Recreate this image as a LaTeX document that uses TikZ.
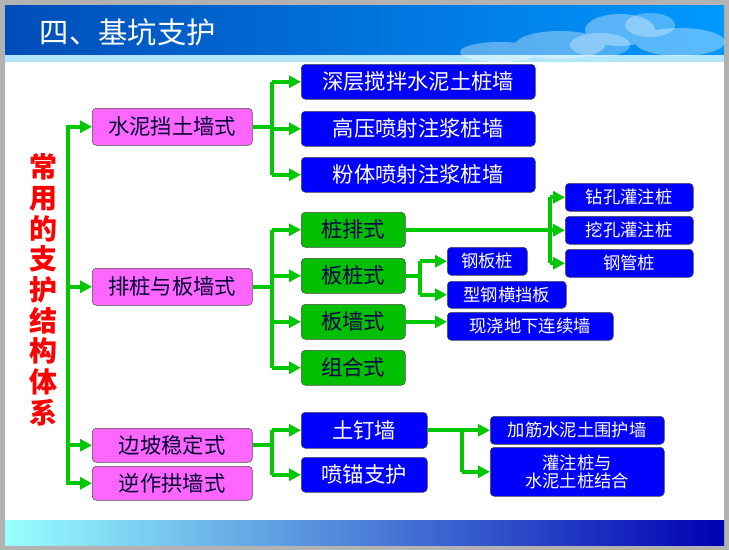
\documentclass[tikz,border=0pt]{standalone}
\usepackage{fontspec}
\setmainfont{Noto Sans CJK SC}
\usetikzlibrary{arrows.meta,shadings}
\definecolor{gr}{RGB}{0,200,0}
\definecolor{pk}{RGB}{255,102,255}
\definecolor{bl}{RGB}{0,0,255}
\definecolor{gb}{RGB}{0,190,0}
\begin{document}
\begin{tikzpicture}[x=0.75pt,y=-0.75pt,
 box/.style={draw=black!70,rounded corners=3pt,inner sep=0pt,anchor=north west},
 pbox/.style={box,fill=pk,text=black!80!blue,font=\fontsize{16}{16}\selectfont},
 bbox/.style={box,fill=bl,text=white,font=\fontsize{16}{16}\selectfont},
 sbox/.style={box,fill=bl,text=white,font=\fontsize{13}{13}\selectfont},
 gbox/.style={box,fill=gb,text=black!70!blue,font=\fontsize{16}{16}\selectfont},
 ln/.style={draw=gr,line width=3pt},
 ar/.style={ln,-{Triangle[length=9pt,width=9pt]}}]
\useasboundingbox (0,0) rectangle (729,550);
\fill[gray!60] (0,0) rectangle (729,550);
\fill[white] (5,5) rectangle (724,545);
\shade[left color=blue!60!black!70!cyan,right color=blue!40!cyan] (5,5) rectangle (724,57);
\fill[cyan!30] (5,55) rectangle (724,62);
\fill[white,opacity=0.35] (500,52) ellipse (40 and 10) (560,45) ellipse (45 and 14) (620,30) ellipse (35 and 16) (680,42) ellipse (45 and 14);
\fill[white,opacity=0.3] (600,45) ellipse (30 and 12) (650,25) ellipse (25 and 12);
\node[anchor=west,text=white,font=\fontsize{22}{22}\selectfont] (title) at (35,32) {四、基坑支护};
\shade[left color=cyan!40,right color=blue!70!black] (5,520) rectangle (724,545);
\node[text=red,font=\fontsize{21}{21}\selectfont\bfseries,align=center,inner sep=0pt] (vt) at (44,290)
 {常\\[2pt]用\\[2pt]的\\[2pt]支\\[2pt]护\\[2pt]结\\[2pt]构\\[2pt]体\\[2pt]系};
% level 1
\node[pbox,minimum width=160*0.75pt,minimum height=37*0.75pt] (p1) at (92,108) {水泥挡土墙式};
\node[pbox,minimum width=160*0.75pt,minimum height=37*0.75pt] (p2) at (92,268) {排桩与板墙式};
\node[pbox,minimum width=160*0.75pt,minimum height=34*0.75pt] (p3) at (92,428) {边坡稳定式};
\node[pbox,minimum width=160*0.75pt,minimum height=34*0.75pt] (p4) at (92,466) {逆作拱墙式};
\coordinate (s0) at (68,125); \coordinate (s1) at (68,485);
\draw[ln] (s0) -- (s1);
\foreach \p in {p1,p2,p3,p4} \draw[ar] (s0|-\p.west) -- (\p.west);
% level 2
\node[bbox,minimum width=234*0.75pt,minimum height=35*0.75pt] (b1) at (301,64) {深层搅拌水泥土桩墙};
\node[bbox,minimum width=234*0.75pt,minimum height=35*0.75pt] (b2) at (301,111) {高压喷射注浆桩墙};
\node[bbox,minimum width=234*0.75pt,minimum height=35*0.75pt] (b3) at (301,157) {粉体喷射注浆桩墙};
\coordinate (v1) at (272,82);
\draw[ln] (p1.east) -- (v1|-p1.east); \draw[ln] (v1) -- (v1|-b3.west);
\foreach \b in {b1,b2,b3} \draw[ar] (v1|-\b.west) -- (\b.west);
\node[gbox,minimum width=104*0.75pt,minimum height=35*0.75pt] (g1) at (301,212) {桩排式};
\node[gbox,minimum width=104*0.75pt,minimum height=35*0.75pt] (g2) at (301,258) {板桩式};
\node[gbox,minimum width=104*0.75pt,minimum height=35*0.75pt] (g3) at (301,304) {板墙式};
\node[gbox,minimum width=104*0.75pt,minimum height=35*0.75pt] (g4) at (301,350) {组合式};
\draw[ln] (p2.east) -- (v1|-p2.east); \draw[ln] (v1|-g1.west) -- (v1|-g4.west);
\foreach \b in {g1,g2,g3,g4} \draw[ar] (v1|-\b.west) -- (\b.west);
\node[bbox,minimum width=126*0.75pt,minimum height=36*0.75pt] (t1) at (301,412) {土钉墙};
\node[bbox,minimum width=126*0.75pt,minimum height=35*0.75pt] (t2) at (301,457) {喷锚支护};
\draw[ln] (p3.east) -- (v1|-p3.east); \draw[ln] (v1|-t1.west) -- (v1|-t2.west);
\foreach \b in {t1,t2} \draw[ar] (v1|-\b.west) -- (\b.west);
% level 3
\node[sbox,minimum width=128*0.75pt,minimum height=28*0.75pt] (z1) at (565,183) {钻孔灌注桩};
\node[sbox,minimum width=128*0.75pt,minimum height=28*0.75pt] (z2) at (565,216) {挖孔灌注桩};
\node[sbox,minimum width=128*0.75pt,minimum height=28*0.75pt] (z3) at (565,249) {钢管桩};
\coordinate (v2) at (550,197);
\draw[ln] (g1.east) -- (v2|-g1.east); \draw[ln] (v2|-z1.west) -- (v2|-z3.west);
\foreach \b in {z1,z2,z3} \draw[ar] (v2|-\b.west) -- (\b.west);
\node[sbox,minimum width=80*0.75pt,minimum height=28*0.75pt] (k1) at (447,247) {钢板桩};
\node[sbox,minimum width=119*0.75pt,minimum height=27*0.75pt] (k2) at (447,281) {型钢横挡板};
\coordinate (v3) at (420,262);
\draw[ln] (g2.east) -- (v3|-g2.east); \draw[ln] (v3|-k1.west) -- (v3|-k2.west);
\foreach \b in {k1,k2} \draw[ar] (v3|-\b.west) -- (\b.west);
\node[sbox,minimum width=166*0.75pt,minimum height=28*0.75pt] (k3) at (447,312) {现浇地下连续墙};
\draw[ar] (g3.east) -- (k3.west|-g3.east);
\node[sbox,minimum width=174*0.75pt,minimum height=28*0.75pt] (j1) at (490,416) {加筋水泥土围护墙};
\node[sbox,minimum width=174*0.75pt,minimum height=49*0.75pt,align=center] (j2) at (490,447) {灌注桩与\\水泥土桩结合};
\coordinate (v4) at (462,430);
\draw[ar] (t1.east) -- (j1.west); \draw[ln] (v4) -- (v4|-j2.west);
\draw[ar] (v4|-j2.west) -- (j2.west);
\end{tikzpicture}
\end{document}
